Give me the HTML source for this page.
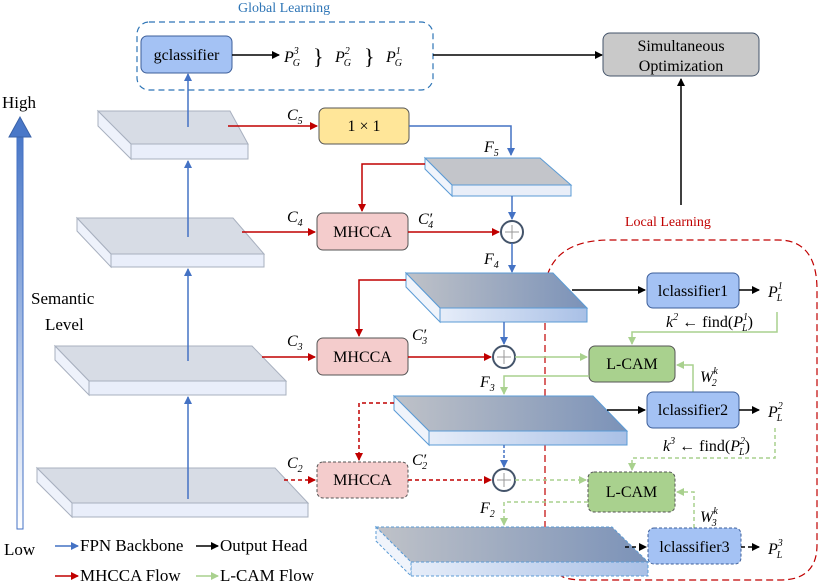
<!DOCTYPE html>
<html><head><meta charset="utf-8"><style>
html,body{margin:0;padding:0;background:#fff;}
svg{display:block;font-family:"Liberation Serif",serif;}
.m{font-style:italic;font-size:16px;}
.b{font-size:16px;}
.l{font-size:17px;}
</style></head><body>
<svg width="822" height="584" viewBox="0 0 822 584" xmlns="http://www.w3.org/2000/svg">
<defs>
<linearGradient id="ga" x1="0" y1="1" x2="0" y2="0"><stop offset="0" stop-color="#ffffff"/><stop offset="1" stop-color="#4a78c8"/></linearGradient>
<linearGradient id="gt" x1="0" y1="0" x2="1" y2="0"><stop offset="0" stop-color="#bfc2c8"/><stop offset="1" stop-color="#7b92b8"/></linearGradient>
<linearGradient id="gf" x1="0" y1="0" x2="1" y2="0"><stop offset="0" stop-color="#e6edf9"/><stop offset="1" stop-color="#a9c0e6"/></linearGradient>
<marker id="ab" markerWidth="8" markerHeight="8" refX="7" refY="4" orient="auto" markerUnits="userSpaceOnUse"><path d="M0,0 L8,4 L0,8z" fill="#4472c4"/></marker>
<marker id="ar" markerWidth="8" markerHeight="8" refX="7" refY="4" orient="auto" markerUnits="userSpaceOnUse"><path d="M0,0 L8,4 L0,8z" fill="#c00000"/></marker>
<marker id="ak" markerWidth="8" markerHeight="8" refX="7" refY="4" orient="auto" markerUnits="userSpaceOnUse"><path d="M0,0 L8,4 L0,8z" fill="#000"/></marker>
<marker id="ag" markerWidth="8" markerHeight="8" refX="7" refY="4" orient="auto" markerUnits="userSpaceOnUse"><path d="M0,0 L8,4 L0,8z" fill="#a9d18e"/></marker>
</defs>

<rect x="17" y="136" width="6" height="393" fill="url(#ga)" stroke="#4472c4" stroke-width="1"/>
<path d="M9,137 L20,117 L31,137 Z" fill="#4a78c8" stroke="#3a62a8"/>
<text x="2" y="108" class="l">High</text>
<text x="4" y="555" class="l">Low</text>
<text x="31" y="304" class="l">Semantic</text>
<text x="45" y="330" class="l">Level</text>

<g fill="#d7dce5" stroke="#a8b0bf" stroke-width="1">
<polygon points="98,111 230,111 248,144 131,144"/><rect x="131" y="144" width="117" height="15" fill="#e9eefa"/><polygon points="98,111 131,144 131,159 98,126" fill="#eef2fb"/>
<polygon points="77,218 233,218 264,254 111,254"/><rect x="111" y="254" width="153" height="13" fill="#e9eefa"/><polygon points="77,218 111,254 111,267 77,231" fill="#eef2fb"/>
<polygon points="55,346 252,346 286,381 89,381"/><rect x="89" y="381" width="197" height="14" fill="#e9eefa"/><polygon points="55,346 89,381 89,395 55,360" fill="#eef2fb"/>
<polygon points="37,468 275,468 308,503 72,503"/><rect x="72" y="503" width="236" height="14" fill="#e9eefa"/><polygon points="37,468 72,503 72,517 37,482" fill="#eef2fb"/>
</g>
<g stroke="#4472c4" stroke-width="1.5" marker-end="url(#ab)">
<line x1="188" y1="499" x2="188" y2="397"/>
<line x1="188" y1="361" x2="188" y2="269"/>
<line x1="188" y1="237" x2="188" y2="161"/>
<line x1="188" y1="127" x2="188" y2="74"/>
</g>

<rect x="137" y="22" width="296" height="68" rx="12" fill="none" stroke="#2e75b6" stroke-width="1.2" stroke-dasharray="6,4"/>
<text x="238" y="12" font-size="14" fill="#2e75b6">Global Learning</text>
<rect x="141" y="36" width="91" height="37" rx="6" fill="#a4c2f4" stroke="#3d5f9a"/>
<text x="186.5" y="60" text-anchor="middle" class="b">gclassifier</text>
<line x1="232" y1="55" x2="279" y2="55" stroke="#000" stroke-width="1.5" marker-end="url(#ak)"/>
<text x="284" y="62" class="m">P<tspan font-size="10" dy="-8">3</tspan><tspan font-size="10" dx="-6" dy="12">G</tspan></text>
<text x="313" y="64" font-size="22">}</text>
<text x="335" y="62" class="m">P<tspan font-size="10" dy="-8">2</tspan><tspan font-size="10" dx="-6" dy="12">G</tspan></text>
<text x="364" y="64" font-size="22">}</text>
<text x="386" y="62" class="m">P<tspan font-size="10" dy="-8">1</tspan><tspan font-size="10" dx="-6" dy="12">G</tspan></text>
<line x1="433" y1="55" x2="602" y2="55" stroke="#000" stroke-width="1.5" marker-end="url(#ak)"/>
<rect x="603" y="33" width="156" height="43" rx="7" fill="#c9c9c9" stroke="#44546a"/>
<text x="681" y="51" text-anchor="middle" class="b">Simultaneous</text>
<text x="681" y="71" text-anchor="middle" class="b">Optimization</text>
<line x1="681" y1="205" x2="681" y2="79" stroke="#000" stroke-width="1.5" marker-end="url(#ak)"/>

<path d="M545,528 L545,285 Q552,240 610,240 L778,240 Q817,240 817,290 L817,545 Q817,580 780,580 L585,580 Q565,580 560,575" fill="none" stroke="#c00000" stroke-width="1.2" stroke-dasharray="7,4"/>
<text x="625" y="226" font-size="14" fill="#c00000">Local Learning</text>

<line x1="228" y1="126" x2="317" y2="126" stroke="#c00000" stroke-width="1.5" marker-end="url(#ar)"/>
<text x="287" y="120" class="m">C<tspan font-size="10" dy="4">5</tspan></text>
<rect x="319" y="108" width="90" height="36" rx="6" fill="#ffe699" stroke="#555"/>
<text x="364" y="131" text-anchor="middle" class="b">1 × 1</text>
<polyline points="409,126 511,126 511,155" fill="none" stroke="#4472c4" stroke-width="1.5" marker-end="url(#ab)"/>
<text x="484" y="152" class="m">F<tspan font-size="10" dy="4">5</tspan></text>

<g stroke="#5b9bd5" stroke-width="1">
<polygon points="425,158 540,158 571,185 452,185" fill="#c3c5ca"/>
<rect x="452" y="185" width="119" height="11" fill="#e9eef8"/>
<polygon points="425,158 452,185 452,196 425,169" fill="#f0f4fb"/>
</g>
<polyline points="425,164 362,164 362,211" fill="none" stroke="#c00000" stroke-width="1.5" marker-end="url(#ar)"/>
<line x1="242" y1="232" x2="315" y2="232" stroke="#c00000" stroke-width="1.5" marker-end="url(#ar)"/>
<text x="287" y="222" class="m">C<tspan font-size="10" dy="4">4</tspan></text>
<rect x="317" y="213" width="91" height="37" rx="6" fill="#f4cccc" stroke="#555"/>
<text x="362.5" y="237" text-anchor="middle" class="b">MHCCA</text>
<line x1="408" y1="232" x2="499" y2="232" stroke="#c00000" stroke-width="1.5" marker-end="url(#ar)"/>
<text x="418" y="224" class="m">C′<tspan font-size="10" dx="-4" dy="4">4</tspan></text>
<line x1="512" y1="196" x2="512" y2="219" stroke="#4472c4" stroke-width="1.5" marker-end="url(#ab)"/>
<circle cx="512" cy="232" r="11" fill="#fff" stroke="#44546a" stroke-width="2"/>
<path d="M505,232 H519 M512,225 V239" stroke="#999" stroke-width="1"/>
<line x1="512" y1="243" x2="512" y2="272" stroke="#4472c4" stroke-width="1.5" marker-end="url(#ab)"/>
<text x="484" y="264" class="m">F<tspan font-size="10" dy="4">4</tspan></text>

<g stroke="#5b9bd5" stroke-width="1">
<polygon points="406,273 553,273 587,308 440,308" fill="url(#gt)"/>
<rect x="440" y="308" width="147" height="14" fill="url(#gf)"/>
<polygon points="406,273 440,308 440,322 406,287" fill="#f0f4fb"/>
</g>
<polyline points="406,280 359,280 359,336" fill="none" stroke="#c00000" stroke-width="1.5" marker-end="url(#ar)"/>
<polyline points="572,290 645,290" fill="none" stroke="#000" stroke-width="1.5" marker-end="url(#ak)"/>
<rect x="647" y="273" width="92" height="35" rx="6" fill="#a4c2f4" stroke="#3d5f9a"/>
<text x="693" y="296" text-anchor="middle" class="b">lclassifier1</text>
<line x1="739" y1="290" x2="759" y2="290" stroke="#000" stroke-width="1.5" marker-end="url(#ak)"/>
<text x="768" y="297" class="m">P<tspan font-size="10" dy="-8">1</tspan><tspan font-size="10" dx="-6" dy="12">L</tspan></text>
<text x="666" y="327" class="m">k<tspan font-size="10" dy="-7">2</tspan><tspan dy="7" font-style="normal"> ← find(</tspan>P<tspan font-size="10" dy="-7">1</tspan><tspan font-size="10" dx="-6" dy="11">L</tspan><tspan dy="-4" font-style="normal">)</tspan></text>
<polyline points="777,312 777,332 632,332 632,344" fill="none" stroke="#a9d18e" stroke-width="1.5" marker-end="url(#ag)"/>

<line x1="262" y1="357" x2="315" y2="357" stroke="#c00000" stroke-width="1.5" marker-end="url(#ar)"/>
<text x="287" y="346" class="m">C<tspan font-size="10" dy="4">3</tspan></text>
<rect x="317" y="338" width="91" height="37" rx="6" fill="#f4cccc" stroke="#555"/>
<text x="362.5" y="362" text-anchor="middle" class="b">MHCCA</text>
<line x1="408" y1="357" x2="491" y2="357" stroke="#c00000" stroke-width="1.5" marker-end="url(#ar)"/>
<text x="412" y="340" class="m">C′<tspan font-size="10" dx="-4" dy="4">3</tspan></text>
<line x1="504" y1="322" x2="504" y2="344" stroke="#4472c4" stroke-width="1.5" marker-end="url(#ab)"/>
<circle cx="504" cy="357" r="11" fill="#fff" stroke="#44546a" stroke-width="2"/>
<path d="M497,357 H511 M504,350 V364" stroke="#999" stroke-width="1"/>
<line x1="515" y1="357" x2="587" y2="357" stroke="#a9d18e" stroke-width="1.5" marker-end="url(#ag)"/>
<rect x="589" y="346" width="86" height="36" rx="6" fill="#a9d18e" stroke="#555"/>
<text x="632" y="369" text-anchor="middle" class="b">L-CAM</text>
<polyline points="693,392 693,365 677,365" fill="none" stroke="#a9d18e" stroke-width="1.5" marker-end="url(#ag)"/>
<text x="700" y="382" class="m">W<tspan font-size="10" dy="-8">k</tspan><tspan font-size="10" dx="-6" dy="12">2</tspan></text>
<polyline points="589,376 504,376 504,394" fill="none" stroke="#a9d18e" stroke-width="1.5" marker-end="url(#ag)"/>
<text x="480" y="387" class="m">F<tspan font-size="10" dy="4">3</tspan></text>

<g stroke="#5b9bd5" stroke-width="1">
<polygon points="394,396 593,396 627,431 429,431" fill="url(#gt)"/>
<rect x="429" y="431" width="198" height="14" fill="url(#gf)"/>
<polygon points="394,396 429,431 429,445 394,410" fill="#f0f4fb"/>
</g>
<polyline points="394,403 359,403 359,460" fill="none" stroke="#c00000" stroke-width="1.5" stroke-dasharray="4,3" marker-end="url(#ar)"/>
<line x1="607" y1="410" x2="645" y2="410" stroke="#000" stroke-width="1.5" marker-end="url(#ak)"/>
<rect x="647" y="392" width="92" height="36" rx="6" fill="#a4c2f4" stroke="#3d5f9a"/>
<text x="693" y="415" text-anchor="middle" class="b">lclassifier2</text>
<line x1="739" y1="410" x2="759" y2="410" stroke="#000" stroke-width="1.5" marker-end="url(#ak)"/>
<text x="768" y="417" class="m">P<tspan font-size="10" dy="-8">2</tspan><tspan font-size="10" dx="-6" dy="12">L</tspan></text>
<text x="663" y="451" class="m">k<tspan font-size="10" dy="-7">3</tspan><tspan dy="7" font-style="normal">  ← find(</tspan>P<tspan font-size="10" dy="-7">2</tspan><tspan font-size="10" dx="-6" dy="11">L</tspan><tspan dy="-4" font-style="normal">)</tspan></text>
<polyline points="775,428 775,458 632,458 632,470" fill="none" stroke="#a9d18e" stroke-width="1.5" stroke-dasharray="4,3" marker-end="url(#ag)"/>

<line x1="284" y1="480" x2="315" y2="480" stroke="#c00000" stroke-width="1.5" stroke-dasharray="4,3" marker-end="url(#ar)"/>
<text x="287" y="468" class="m">C<tspan font-size="10" dy="4">2</tspan></text>
<rect x="317" y="462" width="91" height="36" rx="6" fill="#f4cccc" stroke="#555" stroke-dasharray="3,2"/>
<text x="362.5" y="485" text-anchor="middle" class="b">MHCCA</text>
<line x1="408" y1="480" x2="491" y2="480" stroke="#c00000" stroke-width="1.5" stroke-dasharray="4,3" marker-end="url(#ar)"/>
<text x="412" y="465" class="m">C′<tspan font-size="10" dx="-4" dy="4">2</tspan></text>
<line x1="504" y1="445" x2="504" y2="467" stroke="#4472c4" stroke-width="1.5" stroke-dasharray="3,2" marker-end="url(#ab)"/>
<circle cx="504" cy="480" r="11" fill="#fff" stroke="#44546a" stroke-width="2"/>
<path d="M497,480 H511 M504,473 V487" stroke="#999" stroke-width="1"/>
<line x1="515" y1="480" x2="586" y2="480" stroke="#a9d18e" stroke-width="1.5" stroke-dasharray="4,3" marker-end="url(#ag)"/>
<rect x="588" y="472" width="87" height="40" rx="6" fill="#a9d18e" stroke="#555" stroke-dasharray="3,2"/>
<text x="631.5" y="497" text-anchor="middle" class="b">L-CAM</text>
<polyline points="694,528 694,492 677,492" fill="none" stroke="#a9d18e" stroke-width="1.5" stroke-dasharray="4,3" marker-end="url(#ag)"/>
<text x="700" y="522" class="m">W<tspan font-size="10" dy="-8">k</tspan><tspan font-size="10" dx="-6" dy="12">3</tspan></text>
<polyline points="588,502 504,502 504,525" fill="none" stroke="#a9d18e" stroke-width="1.5" stroke-dasharray="4,3" marker-end="url(#ag)"/>
<text x="480" y="513" class="m">F<tspan font-size="10" dy="4">2</tspan></text>

<g stroke="#5b9bd5" stroke-width="1" stroke-dasharray="3,2">
<polygon points="376,527 612,527 648,562 411,562" fill="url(#gt)"/>
<rect x="411" y="562" width="237" height="14" fill="url(#gf)"/>
<polygon points="376,527 411,562 411,576 376,541" fill="#f0f4fb"/>
</g>
<line x1="625" y1="547" x2="646" y2="547" stroke="#000" stroke-width="1.5" stroke-dasharray="4,3" marker-end="url(#ak)"/>
<rect x="648" y="528" width="93" height="36" rx="6" fill="#a4c2f4" stroke="#3d5f9a" stroke-dasharray="3,2"/>
<text x="694.5" y="552" text-anchor="middle" class="b">lclassifier3</text>
<line x1="741" y1="547" x2="759" y2="547" stroke="#000" stroke-width="1.5" stroke-dasharray="4,3" marker-end="url(#ak)"/>
<text x="768" y="554" class="m">P<tspan font-size="10" dy="-8">3</tspan><tspan font-size="10" dx="-6" dy="12">L</tspan></text>

<line x1="55" y1="546" x2="78" y2="546" stroke="#4472c4" stroke-width="1.5" marker-end="url(#ab)"/>
<text x="80" y="551" class="l">FPN Backbone</text>
<line x1="196" y1="546" x2="218" y2="546" stroke="#000" stroke-width="1.5" marker-end="url(#ak)"/>
<text x="220" y="551" class="l">Output Head</text>
<line x1="55" y1="576" x2="78" y2="576" stroke="#c00000" stroke-width="1.5" marker-end="url(#ar)"/>
<text x="80" y="581" class="l">MHCCA Flow</text>
<line x1="196" y1="576" x2="218" y2="576" stroke="#a9d18e" stroke-width="1.5" marker-end="url(#ag)"/>
<text x="220" y="581" class="l">L-CAM Flow</text>
</svg>
</body></html>
